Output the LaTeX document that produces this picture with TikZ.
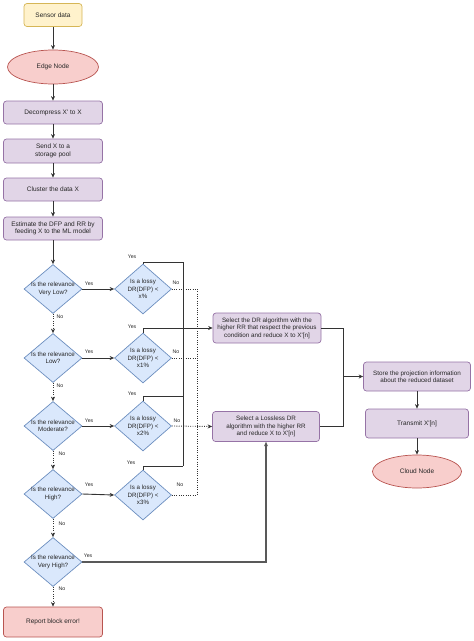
\documentclass[tikz,border=0pt]{standalone}
\usepackage{fontspec}
\setmainfont{Liberation Sans}[Ligatures=TeXOff]
\usetikzlibrary{shapes.geometric,arrows.meta}
\definecolor{purpF}{HTML}{E1D5E7}
\definecolor{purpD}{HTML}{9673A6}
\definecolor{redF}{HTML}{F8CECC}
\definecolor{redD}{HTML}{B85450}
\definecolor{yelF}{HTML}{FFF2CC}
\definecolor{yelD}{HTML}{D6B656}
\definecolor{bluF}{HTML}{DAE8FC}
\definecolor{bluD}{HTML}{6C8EBF}
\definecolor{lineC}{HTML}{333333}
\begin{document}
\begin{tikzpicture}[x=1pt,y=-1pt,
  every node/.style={font=\fontsize{6.5pt}{7.6pt}\selectfont, text=black!85, align=center, inner sep=1pt},
  pbox/.style={draw=purpD, fill=purpF, rounded corners=3pt, line width=0.7pt},
  rbox/.style={draw=redD, fill=redF, rounded corners=3pt, line width=0.7pt},
  ybox/.style={draw=yelD, fill=yelF, rounded corners=3pt, line width=0.7pt},
  rell/.style={draw=redD, fill=redF, ellipse, line width=0.7pt},
  dia/.style={draw=bluD, fill=bluF, diamond, line width=0.7pt, minimum width=58pt, minimum height=49pt, inner sep=0pt},
  dtext/.style={font=\fontsize{6.2pt}{7.5pt}\selectfont},
  lab/.style={font=\fontsize{5.2pt}{6pt}\selectfont, inner sep=0pt},
  conn/.style={draw=lineC, line width=0.9pt},
  arr/.style={conn, -{Stealth[length=4.5pt,width=4pt]}},
  dotc/.style={conn, dash pattern=on 0.9pt off 1.4pt},
  darr/.style={dotc, -{Stealth[length=4.5pt,width=4pt]}}
]
\useasboundingbox (0,0) rectangle (474,641);
% left column
\node[ybox, minimum width=58pt, minimum height=23pt] (sensor) at (53,15) {Sensor data};
\node[rell, minimum width=91pt, minimum height=34pt] (edge) at (53,67) {Edge Node};
\node[pbox, minimum width=99pt, minimum height=23pt] (decomp) at (53,112.5) {Decompress X' to X};
\node[pbox, minimum width=99pt, minimum height=24pt] (send) at (53,151) {Send X to a\\storage pool};
\node[pbox, minimum width=99pt, minimum height=23pt] (cluster) at (53,189.5) {Cluster the data X};
\node[pbox, minimum width=99pt, minimum height=23pt] (estimate) at (53,228.5) {Estimate the DFP and RR by\\feeding X to the ML model};
% relevance diamonds
\node[dia] (d1) at (53,289) {};
\node[dtext] (d1t) at (d1) {Is the relevance\\Very Low?};
\node[dia] (d2) at (53,358) {};
\node[dtext] (d2t) at (d2) {Is the relevance\\Low?};
\node[dia] (d3) at (53,426) {};
\node[dtext] (d3t) at (d3) {Is the relevance\\Moderate?};
\node[dia] (d4) at (53,494) {};
\node[dtext] (d4t) at (d4) {Is the relevance\\High?};
\node[dia] (d5) at (53,562) {};
\node[dtext] (d5t) at (d5) {Is the relevance\\Very High?};
\node[rbox, minimum width=99pt, minimum height=30pt] (report) at (53,622) {Report block error!};
% lossy diamonds
\node[dia, minimum width=57pt, minimum height=50pt] (l1) at (143,289) {};
\node[dtext] (l1t) at (l1) {Is a lossy\\DR(DFP) <\\x\%};
\node[dia, minimum width=57pt, minimum height=50pt] (l2) at (143,358) {};
\node[dtext] (l2t) at (l2) {Is a lossy\\DR(DFP) <\\x1\%};
\node[dia, minimum width=57pt, minimum height=50pt] (l3) at (143,426) {};
\node[dtext] (l3t) at (l3) {Is a lossy\\DR(DFP) <\\x2\%};
\node[dia, minimum width=57pt, minimum height=50pt] (l4) at (143,495) {};
\node[dtext] (l4t) at (l4) {Is a lossy\\DR(DFP) <\\x3\%};
% middle boxes
\node[pbox, minimum width=108pt, minimum height=30pt, font=\fontsize{6.3pt}{7.5pt}\selectfont] (select) at (267,328) {Select the DR algorithm with the\\higher RR that respect the previous\\condition and reduce X to X'[n]};
\node[pbox, minimum width=107pt, minimum height=30pt, font=\fontsize{6.3pt}{7.5pt}\selectfont] (lossless) at (266,426.5) {Select a Lossless DR\\algorithm with the higher RR\\and reduce X to X'[n]};
% right column
\node[pbox, minimum width=107pt, minimum height=29pt, font=\fontsize{6.3pt}{7.5pt}\selectfont] (store) at (417,376.5) {Store the projection information\\about the reduced dataset};
\node[pbox, minimum width=103pt, minimum height=29pt] (transmit) at (417,423.5) {Transmit X'[n]};
\node[rell, minimum width=89pt, minimum height=33pt] (cloud) at (417,471.5) {Cloud Node};
% coordinates
\coordinate (bus1) at (183,262);
\coordinate (bus3) at (183,396);
\coordinate (bus4) at (183,466);
\coordinate (dv1) at (197,289);
\coordinate (dv2) at (197,358);
\coordinate (dv4) at (197,495);
\coordinate (rj1) at (343,328);
\coordinate (rj2) at (343,426.5);
\coordinate (rjm) at (343,376.5);
% main chain
\draw[arr] (sensor) -- (edge);
\draw[arr] (edge) -- (decomp);
\draw[arr] (decomp) -- (send);
\draw[arr] (send) -- (cluster);
\draw[arr] (cluster) -- (estimate);
\draw[arr] (estimate) -- (d1);
\draw[darr] (d1) -- (d2);
\draw[darr] (d2) -- (d3);
\draw[darr] (d3) -- (d4);
\draw[darr] (d4) -- (d5);
\draw[darr] (d5) -- (report);
% yes to lossy
\draw[arr] (d1.east) -- (l1.west);
\draw[arr] (d2.east) -- (l2.west);
\draw[arr] (d3.east) -- (l3.west);
\draw[arr] (d4.east) -- (l4.west);
% lossy yes
\draw[conn] (l1.north) |- (bus1) -- (bus4);
\draw[arr] (l2.north) |- (select.west);
\draw[conn] (l3.north) |- (bus3);
\draw[conn] (l4.north) |- (bus4);
% lossy no
\draw[dotc] (l1.east) -- (dv1) -- (dv4);
\draw[dotc] (l2.east) -- (dv2);
\draw[darr] (l3.east) -- (lossless.west);
\draw[dotc] (l4.east) -- (dv4);
% very high yes
\draw[arr, draw=black!65, line width=1.1pt] (d5.east) -| (lossless.south);
% right side
\draw[conn] (select.east) -- (rj1) -- (rj2) -- (lossless.east);
\draw[arr] (rjm) -- (store.west);
\draw[arr] (store) -- (transmit);
\draw[arr] (transmit) -- (cloud);
% labels
\node[lab] (y1) at (89,284) {Yes};
\node[lab] (y2) at (89,352) {Yes};
\node[lab] (y3) at (89,421) {Yes};
\node[lab] (y4) at (89,485) {Yes};
\node[lab] (y5) at (88,556) {Yes};
\node[lab] (ly1) at (132,257) {Yes};
\node[lab] (ly2) at (132,327) {Yes};
\node[lab] (ly3) at (132,394) {Yes};
\node[lab] (ly4) at (131,463) {Yes};
\node[lab] (ln1) at (176,283) {No};
\node[lab] (ln2) at (176,352) {No};
\node[lab] (ln3) at (177,421) {No};
\node[lab] (ln4) at (180,485) {No};
\node[lab] (n1) at (60,317) {No};
\node[lab] (n2) at (60,386) {No};
\node[lab] (n3) at (62,454) {No};
\node[lab] (n4) at (62,524) {No};
\node[lab] (n5) at (62,589) {No};
\end{tikzpicture}
\end{document}
